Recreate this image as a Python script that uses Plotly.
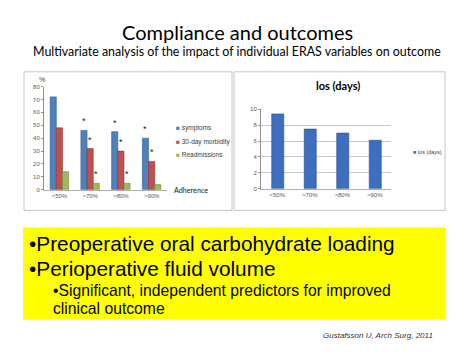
import plotly.graph_objects as go

W, H = 474, 355

# ---------------- data ----------------
categories = ["<50%", ">70%", ">80%", ">90%"]
series_names = ["symptoms", "30-day morbidity", "Readmissions"]
symptoms = [72, 46, 45, 40]
morbidity = [48, 32, 30, 22]
readmissions = [14, 5, 5, 4]
significant = [[0, 1, 1, 1], [0, 1, 1, 1], [0, 1, 1, 0]]
los_days = [9.4, 7.5, 7.0, 6.1]
left_ticks = [0, 10, 20, 30, 40, 50, 60, 70, 80]
right_ticks = [0, 2, 4, 6, 8, 10]

colors = ["#4F81BD", "#C0504D", "#9BBB59"]
edge = ["#2E5A8F", "#8B2E2B", "#6E8A35"]
los_color = "#3D6EC0"


def px(x):
    return x / W


def py(y):
    return 1 - y / H


fig = go.Figure()

# ---------------- left chart ----------------
vals = [symptoms, morbidity, readmissions]
bw = 0.2
offs = [-0.3, -0.1, 0.1]
for i, (name, v) in enumerate(zip(series_names, vals)):
    fig.add_trace(go.Bar(
        x=categories, y=v, name=name, width=bw, offset=offs[i],
        marker=dict(color=colors[i], line=dict(color=edge[i], width=0.6)),
        xaxis="x", yaxis="y", showlegend=False))

# significance asterisks
for i, v in enumerate(vals):
    for j, val in enumerate(v):
        if significant[i][j]:
            fig.add_annotation(x=j + offs[i] + bw / 2, y=val, xref="x", yref="y",
                               text="*", showarrow=False, yanchor="bottom", yshift=2,
                               font=dict(size=9, color="#222222", family="Liberation Sans"))

# ---------------- right chart ----------------
fig.add_trace(go.Bar(
    x=categories, y=los_days, name="los (days)", width=0.37, offset=-0.17,
    marker=dict(color=los_color, line=dict(color="#274E8F", width=0.6)),
    xaxis="x2", yaxis="y2", showlegend=False))

tickfont = dict(size=6, color="#595959", family="Liberation Sans")

fig.update_layout(
    width=W, height=H, margin=dict(l=0, r=0, t=0, b=0),
    paper_bgcolor="white", plot_bgcolor="rgba(0,0,0,0)",
    barmode="overlay", showlegend=False,
    xaxis=dict(domain=[px(44), px(167)], tickfont=tickfont, showline=True,
               linecolor="#B0B0B0", linewidth=1, ticks="", showgrid=False,
               anchor="y", fixedrange=True),
    yaxis=dict(domain=[py(190), py(85)], range=[0, 80], tickvals=left_ticks,
               tickfont=tickfont, showline=True, linecolor="#909090", linewidth=1,
               ticks="outside", ticklen=2, tickcolor="#909090", showgrid=False,
               zeroline=False, anchor="x"),
    xaxis2=dict(domain=[px(261), px(391)], tickfont=tickfont, showline=True,
                linecolor="#B0B0B0", linewidth=1, ticks="", showgrid=False,
                anchor="y2"),
    yaxis2=dict(domain=[py(189), py(108)], range=[0, 10], tickvals=right_ticks,
                tickfont=tickfont, showline=True, linecolor="#909090", linewidth=1,
                ticks="outside", ticklen=2, tickcolor="#909090", showgrid=True,
                gridcolor="#C8C8C8", gridwidth=1, zeroline=False, anchor="x2"),
)

# chart frames
fig.add_shape(type="rect", xref="paper", yref="paper", x0=px(24), x1=px(232),
              y0=py(211), y1=py(70), line=dict(color="#C4C4C4", width=1), layer="below")
fig.add_shape(type="rect", xref="paper", yref="paper", x0=px(234), x1=px(445),
              y0=py(211), y1=py(70), line=dict(color="#C4C4C4", width=1), layer="below")

# yellow box
fig.add_shape(type="rect", xref="paper", yref="paper", x0=px(23), x1=px(445),
              y0=py(322), y1=py(228), fillcolor="#FFFF00", line=dict(width=0), layer="below")

# ---------------- texts ----------------
def txt(x, y, s, size, xanchor="center", color="black", family="Lato", **kw):
    fig.add_annotation(x=px(x), y=py(y), xref="paper", yref="paper", text=s,
                       showarrow=False, xanchor=xanchor, yanchor="middle",
                       font=dict(size=size, color=color, family=family), **kw)


txt(237, 29, "Compliance and outcomes", 20)
txt(237, 49, "Multivariate analysis of the impact of individual ERAS variables on outcome", 12.4)

# left chart labels
txt(42, 78, "%", 7, color="#404040", family="Liberation Sans")
txt(172, 191, "Adherence", 7.2, xanchor="left", color="#202020", family="Lato")
leg_y = [127, 141, 154]
for name, c, yy in zip(series_names, colors, leg_y):
    txt(174, yy, f'<span style="color:{c}">■</span> {name}', 6.5, xanchor="left",
        color="#404040", family="Liberation Sans")

# right chart labels
txt(338, 84, "<b>los (days)</b>", 11, family="Lato")
txt(411, 152, f'<span style="color:{los_color}">■</span> los (days)', 5.5, xanchor="left",
    color="#404040", family="Liberation Sans")

# bullet text
arial = "Liberation Sans"
txt(27, 245, "•Preoperative oral carbohydrate loading", 20.8, xanchor="left", family=arial)
txt(27, 270, "•Perioperative fluid volume", 20.8, xanchor="left", family=arial)
txt(51, 292, "•Significant, independent predictors for improved", 15.7, xanchor="left", family=arial)
txt(51, 311, "clinical outcome", 15.7, xanchor="left", family=arial)

txt(435, 338, "<i>Gustafsson U, Arch Surg, 2011</i>", 8, xanchor="right",
    color="#333333", family=arial)

fig.write_html("out.html")
